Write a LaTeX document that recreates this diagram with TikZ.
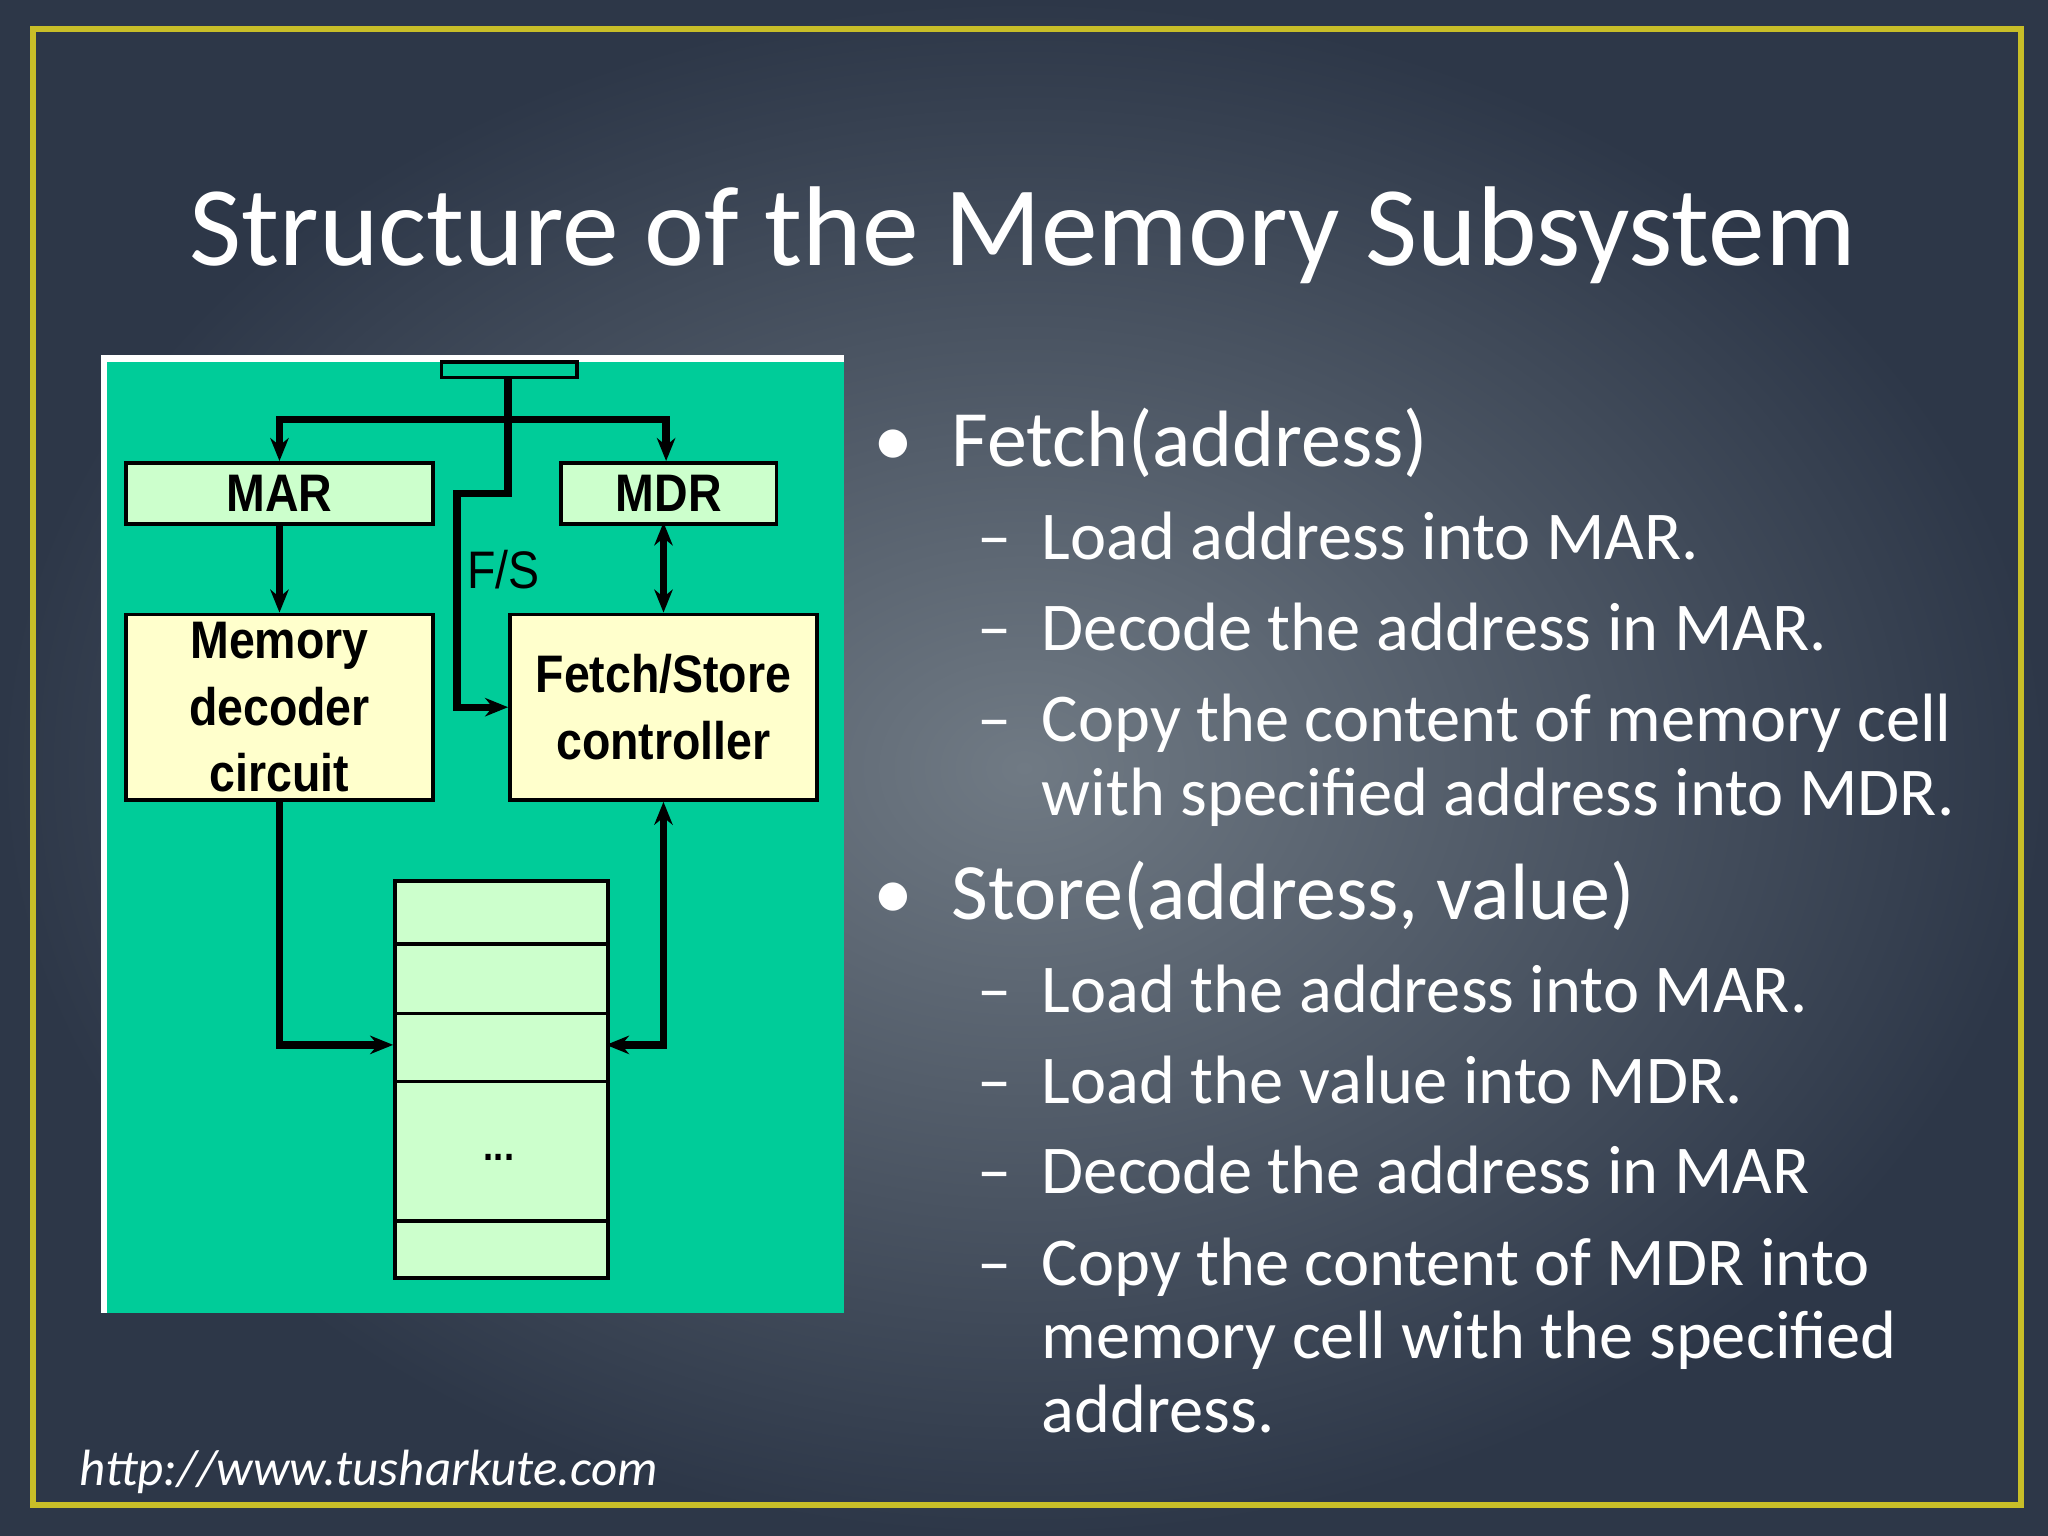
\documentclass[tikz,border=0pt]{standalone}
\usepackage{fontspec}
\setmainfont{Carlito}
\newfontfamily\arialf{Liberation Sans}[FakeStretch=0.88]
\usetikzlibrary{arrows.meta}
\begin{document}
\begin{tikzpicture}[x=0.01cm,y=-0.01cm,
 wire/.style={line width=1.6pt,black},
 arr/.style={wire,-{Stealth[length=5pt,width=4pt]}},
 darr/.style={wire,{Stealth[length=5pt,width=4pt]}-{Stealth[length=5pt,width=4pt]}},
 lbox/.style={draw=black,line width=0.8pt,fill={rgb,255:red,204;green,255;blue,204},inner sep=0,anchor=north west},
 ybox/.style={draw=black,line width=0.8pt,fill={rgb,255:red,255;green,255;blue,204},inner sep=0,anchor=north west},
 dlab/.style={font=\arialf\bfseries\fontsize{11.5}{12}\selectfont,align=center},
 bul/.style={anchor=base west,inner sep=0,text=white,font=\fontsize{17.4}{18}\selectfont},
 sub/.style={anchor=base west,inner sep=0,text=white,font=\fontsize{14.9}{16}\selectfont,align=left}]
\useasboundingbox (0,0) rectangle (1568,1176);
\shade[inner color={rgb,255:red,112;green,122;blue,132},outer color={rgb,255:red,45;green,55;blue,72}] (0,0) rectangle (1568,1176);
\draw[line width=1.3pt,color={rgb,255:red,200;green,190;blue,40}] (25,22) rectangle (1547,1152);
\node[text=white,font=\fontsize{24.7}{26}\selectfont] (title) at (783,180) {Structure of the Memory Subsystem};
% diagram
\fill[white] (77,272) rectangle (646,1005);
\fill[fill={rgb,255:red,0;green,204;blue,153}] (82,277) rectangle (646,1005);
\draw[line width=0.8pt] (338,277) rectangle (442,289);
\coordinate (bus) at (389,289);
\node[lbox,minimum width=2.35cm,minimum height=0.47cm] (mar) at (95,353) {};
\node[dlab] at (mar) {MAR};
\node[lbox,minimum width=1.65cm,minimum height=0.47cm] (mdr) at (428,353) {};
\node[dlab] at (mdr) {MDR};
\node[ybox,minimum width=2.35cm,minimum height=1.42cm] (dec) at (95,469) {};
\node[dlab,font=\arialf\bfseries\fontsize{11.5}{14.5}\selectfont] at (dec) {Memory\\decoder\\circuit};
\node[ybox,minimum width=2.35cm,minimum height=1.42cm] (fsc) at (389,469) {};
\node[dlab,font=\arialf\bfseries\fontsize{11.5}{14.5}\selectfont] at (fsc) {Fetch/Store\\controller};
\node[lbox,minimum width=1.63cm,minimum height=3.04cm] (mem) at (301,673) {};
\foreach \yy in {723,776,828,935} \draw[line width=0.8pt] (301,\yy) -- (464,\yy);
\node[font=\arialf\bfseries\fontsize{9}{10}\selectfont] at (382,886) {...};
\draw[wire] (bus) -- (389,321);
\draw[arr] (389,321) -| (mar.north);
\draw[arr] (389,321) -| (510,353);
\draw[arr] (389,321) -- (389,378) -- (350,378) |- (fsc.west);
\node[font=\arialf\fontsize{11.5}{12}\selectfont,anchor=west,inner sep=0] (fs) at (357,436) {F/S};
\draw[arr] (mar.south) -- (dec.north);
\draw[darr] (508,400) -- (508,469);
\draw[arr] (dec.south) |- (301,800);
\draw[darr] (fsc.south) |- (464,800);
% text
\node[bul] at (668,357) {•};
\node[bul] (b1) at (728,357) {Fetch(address)};
\node[sub] at (748,428) {–};
\node[sub] at (797,428) {Load address into MAR.};
\node[sub] at (748,498) {–};
\node[sub] at (797,498) {Decode the address in MAR.};
\node[sub] at (748,568) {–};
\node[sub] at (797,568) {Copy the content of memory cell};
\node[sub] at (797,624) {with specified address into MDR.};
\node[bul] at (668,704) {•};
\node[bul] (b2) at (728,704) {Store(address, value)};
\node[sub] at (748,775) {–};
\node[sub] at (797,775) {Load the address into MAR.};
\node[sub] at (748,845) {–};
\node[sub] at (797,845) {Load the value into MDR.};
\node[sub] at (748,914) {–};
\node[sub] at (797,914) {Decode the address in MAR};
\node[sub] at (748,984) {–};
\node[sub] at (797,984) {Copy the content of MDR into};
\node[sub] at (797,1040) {memory cell with the specified};
\node[sub] at (797,1097) {address.};
\node[anchor=base west,inner sep=0,text=white,font=\itshape\fontsize{11.1}{12}\selectfont] (url) at (60,1137) {http://www.tusharkute.com};
\end{tikzpicture}
\end{document}
